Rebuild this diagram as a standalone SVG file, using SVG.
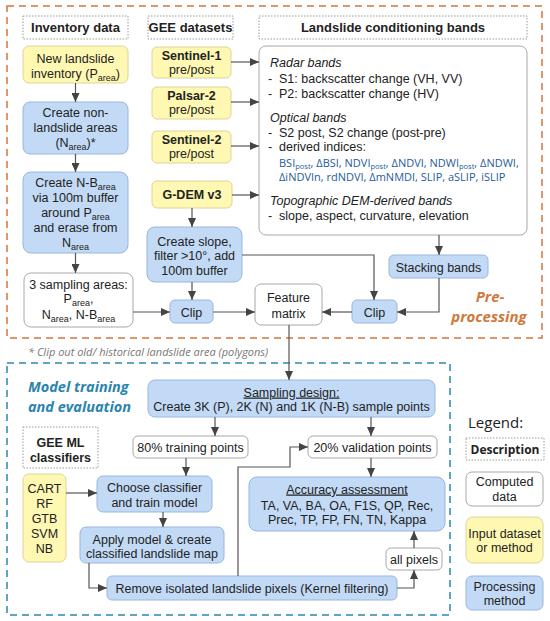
<svg xmlns="http://www.w3.org/2000/svg" width="550" height="621" viewBox="0 0 550 621">
<defs>
<marker id="a" markerWidth="9" markerHeight="8" refX="9" refY="4" orient="auto" markerUnits="userSpaceOnUse">
<path d="M0,0 L9,4 L0,8 Z" fill="#444"/>
</marker>
<style>
.b{fill:#C2DAF6;stroke:#98B6DB;stroke-width:1}
.y{fill:#FFF8B2;stroke:#DCD49C;stroke-width:1}
.w{fill:#fff;stroke:#A8A8A8;stroke-width:1}
.h{fill:#fff;stroke:#9A9A9A;stroke-width:1;stroke-dasharray:1.5 1.5}
.t{font-family:"Liberation Sans",Arial,sans-serif;font-size:12.5px;fill:#222;text-anchor:middle}
.tl{font-family:"Liberation Sans",Arial,sans-serif;font-size:12.5px;fill:#222}
.bd{font-weight:bold}
.it{font-style:italic}
.ix{font-family:"Open Sans",sans-serif;font-size:11px;fill:#1F5C99}
.c path{stroke:#555;stroke-width:1.2;fill:none;marker-end:url(#a)}
.u{text-decoration:underline}
</style>
</defs>
<rect x="7" y="6" width="535" height="332" fill="none" stroke="#D4763B" stroke-width="1.5" stroke-dasharray="7 5"/>
<rect x="7" y="363" width="443" height="252" fill="none" stroke="#2B88B0" stroke-width="1.5" stroke-dasharray="7 5"/>

<g id="hdr-inventory"><rect class="h" x="23" y="16" width="105" height="23"/><text class="t bd" x="75.5" y="32" style="font-size:13px">Inventory data</text></g>
<g id="hdr-gee"><rect class="h" x="148" y="16" width="85" height="23"/><text class="t bd" x="190.5" y="32" style="font-size:13px">GEE datasets</text></g>
<g id="hdr-bands"><rect class="h" x="259" y="16" width="268" height="23"/><text class="t bd" x="393" y="32" style="font-size:13px">Landslide conditioning bands</text></g>

<g id="n-inventory"><rect class="y" x="23" y="46" width="105" height="37" rx="6"/><text class="t" x="75.5" y="63">New landslide</text><text class="t" x="75.5" y="78">inventory (P<tspan dy="3" font-size="9">area</tspan><tspan dy="-3">)</tspan></text></g>
<g id="n-nonlandslide"><rect class="b" x="23" y="102" width="105" height="52" rx="7"/><text class="t" x="75.5" y="117">Create non-</text><text class="t" x="75.5" y="132">landslide areas</text><text class="t" x="75.5" y="147">(N<tspan dy="3" font-size="9">area</tspan><tspan dy="-3">)*</tspan></text></g>
<g id="n-nb"><rect class="b" x="23" y="172" width="105" height="81" rx="8"/><text class="t" x="75.5" y="187">Create N-B<tspan dy="3" font-size="9">area</tspan></text><text class="t" x="75.5" y="202">via 100m buffer</text><text class="t" x="75.5" y="217">around P<tspan dy="3" font-size="9">area</tspan></text><text class="t" x="75.5" y="232">and erase from</text><text class="t" x="75.5" y="247">N<tspan dy="3" font-size="9">area</tspan></text></g>
<g id="n-sampling-areas"><rect class="w" x="24" y="273" width="109" height="54" rx="7"/><text class="t" x="78.5" y="289">3 sampling areas:</text><text class="t" x="78.5" y="303">P<tspan dy="3" font-size="9">area</tspan><tspan dy="-3">,</tspan></text><text class="t" x="78.5" y="319">N<tspan dy="3" font-size="9">area</tspan><tspan dy="-3">, N-B</tspan><tspan dy="3" font-size="9">area</tspan></text></g>

<g id="n-s1"><rect class="y" x="152" y="47" width="79" height="31" rx="5"/><text class="t bd" x="191.5" y="59.5">Sentinel-1</text><text class="t" x="191.5" y="74">pre/post</text></g>
<g id="n-p2"><rect class="y" x="152" y="87" width="79" height="32" rx="5"/><text class="t bd" x="191.5" y="99.5">Palsar-2</text><text class="t" x="191.5" y="114">pre/post</text></g>
<g id="n-s2"><rect class="y" x="152" y="131" width="79" height="32" rx="5"/><text class="t bd" x="191.5" y="143.5">Sentinel-2</text><text class="t" x="191.5" y="158">pre/post</text></g>
<g id="n-gdem"><rect class="y" x="152" y="181" width="80" height="27" rx="5"/><text class="t bd" x="192" y="199">G-DEM v3</text></g>
<g id="n-slope"><rect class="b" x="147" y="227" width="95" height="55" rx="8"/><text class="t" x="194.5" y="245.5">Create slope,</text><text class="t" x="194.5" y="259.5">filter &gt;10°, add</text><text class="t" x="194.5" y="274.5">100m buffer</text></g>
<g id="n-clip1"><rect class="b" x="170" y="300" width="43" height="23" rx="5"/><text class="t" x="191.5" y="316.5">Clip</text></g>
<g id="n-feature"><rect class="w" x="255" y="284" width="67" height="41" rx="6"/><text class="t" x="288.5" y="301.5">Feature</text><text class="t" x="288.5" y="317.5">matrix</text></g>
<g id="n-clip2"><rect class="b" x="352" y="300" width="45" height="23" rx="5"/><text class="t" x="374.5" y="316.5">Clip</text></g>
<g id="n-stack"><rect class="b" x="389" y="255" width="99" height="23" rx="5"/><text class="t" x="438.5" y="271.5">Stacking bands</text></g>

<g id="n-bands"><rect class="w" x="259" y="46" width="268" height="189" rx="7"/>
<text class="tl it" x="270" y="66.5">Radar bands</text>
<text class="tl" x="268" y="82.5">-<tspan x="279">S1: backscatter change (VH, VV)</tspan></text>
<text class="tl" x="268" y="97.5">-<tspan x="279">P2: backscatter change (HV)</tspan></text>
<text class="tl it" x="270" y="121.5">Optical bands</text>
<text class="tl" x="268" y="136.5">-<tspan x="279">S2 post, S2 change (post-pre)</tspan></text>
<text class="tl" x="268" y="150.5">-<tspan x="279">derived indices:</tspan></text>
<text class="ix" x="279" y="166.5">BSI<tspan dy="2" font-size="7.5">post</tspan><tspan dy="-2">, ΔBSI, NDVI</tspan><tspan dy="2" font-size="7.5">post</tspan><tspan dy="-2">, ΔNDVI, NDWI</tspan><tspan dy="2" font-size="7.5">post</tspan><tspan dy="-2">, ΔNDWI,</tspan></text>
<text class="ix" x="279" y="181">ΔiNDVIn, rdNDVI, ΔmNMDI, SLIP, aSLIP, iSLIP</text>
<text class="tl it" x="270" y="204.5">Topographic DEM-derived bands</text>
<text class="tl" x="268" y="219.5">-<tspan x="279">slope, aspect, curvature, elevation</tspan></text>
</g>

<text x="490" y="302" text-anchor="middle" font-family="'Open Sans',sans-serif" font-size="15" font-weight="bold" font-style="italic" fill="#D0783C">Pre-</text>
<text x="489" y="322" text-anchor="middle" font-family="'Open Sans',sans-serif" font-size="15" font-weight="bold" font-style="italic" fill="#D0783C">processing</text>
<text x="28" y="356" font-family="'Open Sans',sans-serif" font-size="11" font-style="italic" fill="#777">* Clip out old/ historical landslide area (polygons)</text>

<text x="28" y="392" font-family="'Open Sans',sans-serif" font-size="14.5" font-weight="bold" font-style="italic" fill="#2A84AE">Model training</text>
<text x="28" y="412" font-family="'Open Sans',sans-serif" font-size="14.5" font-weight="bold" font-style="italic" fill="#2A84AE">and evaluation</text>

<g id="n-sampling"><rect class="b" x="148" y="380" width="287" height="37" rx="7"/><text class="t u" x="291.5" y="396.5">Sampling design:</text><text class="t" x="291.5" y="410.5">Create 3K (P), 2K (N) and 1K (N-B) sample points</text></g>
<g id="n-train"><rect class="w" x="133" y="436" width="115" height="22" rx="5"/><text class="t" x="190.5" y="451.5">80% training points</text></g>
<g id="n-val"><rect class="w" x="308" y="436" width="129" height="22" rx="5"/><text class="t" x="372.5" y="451.5">20% validation points</text></g>
<g id="hdr-ml"><rect class="h" x="23" y="427" width="75" height="41"/><text class="t bd" x="60.5" y="446.5">GEE ML</text><text class="t bd" x="60.5" y="461.5">classifiers</text></g>
<g id="n-classifiers"><rect class="y" x="23" y="474" width="43" height="88" rx="6"/><text class="t" x="44.5" y="492.5">CART</text><text class="t" x="44.5" y="507.5">RF</text><text class="t" x="44.5" y="522.5">GTB</text><text class="t" x="44.5" y="537.5">SVM</text><text class="t" x="44.5" y="552.5">NB</text></g>
<g id="n-choose"><rect class="b" x="97" y="476" width="115" height="36" rx="6"/><text class="t" x="154.5" y="491.5">Choose classifier</text><text class="t" x="154.5" y="506.5">and train model</text></g>
<g id="n-apply"><rect class="b" x="80" y="527" width="144" height="36" rx="6"/><text class="t" x="152" y="543.5">Apply model &amp; create</text><text class="t" x="152" y="557.5">classified landslide map</text></g>
<g id="n-remove"><rect class="b" x="107" y="576" width="290" height="24" rx="5"/><text class="t" x="252" y="592.5">Remove isolated landslide pixels (Kernel filtering)</text></g>
<g id="n-allpix"><rect class="w" x="386" y="548" width="56" height="22" rx="5"/><text class="t" x="414" y="563.5">all pixels</text></g>
<g id="n-accuracy"><rect class="b" x="249" y="477" width="196" height="54" rx="8"/><text class="t u" x="347" y="493.5">Accuracy assessment</text><text class="t" x="347" y="509.5">TA, VA, BA, OA, F1S, QP, Rec,</text><text class="t" x="347" y="524">Prec, TP, FP, FN, TN, Kappa</text></g>

<text x="468" y="428" font-family="'Open Sans',sans-serif" font-size="15" fill="#222">Legend:</text>
<g id="lg-desc"><rect class="h" x="466" y="438" width="78" height="22"/><text x="505" y="454" text-anchor="middle" font-family="'Open Sans',sans-serif" font-size="12" font-weight="bold" fill="#222">Description</text></g>
<g id="lg-computed"><rect class="w" x="466" y="472" width="77" height="34" rx="6"/><text class="t" x="504.5" y="485.5">Computed</text><text class="t" x="504.5" y="500.5">data</text></g>
<g id="lg-input"><rect class="y" x="466" y="517" width="77" height="46" rx="7"/><text class="t" x="504.5" y="537.5">Input dataset</text><text class="t" x="504.5" y="551.5">or method</text></g>
<g id="lg-proc"><rect class="b" x="466" y="576" width="77" height="34" rx="6"/><text class="t" x="504.5" y="590.5">Processing</text><text class="t" x="504.5" y="604.5">method</text></g>

<g id="connectors" class="c">
<path d="M75.5 83 V102"/>
<path d="M75.5 154 V172"/>
<path d="M75.5 253 V273"/>
<path d="M133 312 H170"/>
<path d="M231 62 H259"/>
<path d="M231 102 H259"/>
<path d="M231 146 H259"/>
<path d="M232 195 H259"/>
<path d="M192 208 V227"/>
<path d="M192 282 V300"/>
<path d="M213 312 H255"/>
<path d="M242 255 H374 V300"/>
<path d="M439 235 V255"/>
<path d="M439 278 V312 H397"/>
<path d="M352 312 H322"/>
<path d="M289 325 V380"/>
<path d="M215 417 V436"/>
<path d="M371 417 V436"/>
<path d="M371 458 V477"/>
<path d="M186 458 V476"/>
<path d="M66 493 H97"/>
<path d="M163 512 V527"/>
<path d="M89 563 V588 H107"/>
<path d="M238 576 V467 H290 V447 H308"/>
<path d="M397 588 H414 V570"/>
<path d="M414 548 V531"/>
</g>
</svg>
